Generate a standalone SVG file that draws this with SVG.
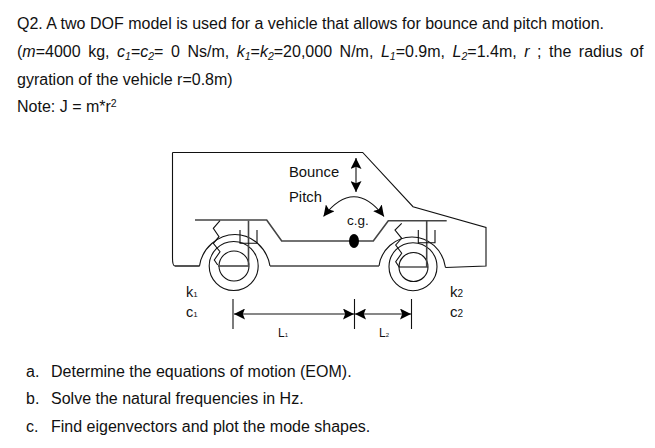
<svg xmlns="http://www.w3.org/2000/svg" width="655" height="448" viewBox="0 0 655 448">
<style>
text{font-family:"Liberation Sans",Arial,sans-serif;fill:#111}
.q{font-size:16px}
.d{font-size:14.8px}
.l{fill:none;stroke:#111;stroke-width:1.1}
.h{fill:none;stroke:#444;stroke-width:1.6}
.a{fill:none;stroke:#111;stroke-width:1.1;marker-start:url(#ah);marker-end:url(#ah)}
.i{font-style:italic}
</style>
<defs>
<marker id="ah" viewBox="0 0 10 10" refX="10" refY="5" markerWidth="11" markerHeight="11" markerUnits="userSpaceOnUse" orient="auto-start-reverse"><path d="M0 0L10 5L0 10L2 5Z" fill="#000"/></marker>
</defs>
<g id="question">
<text class="q" x="17" y="29">Q2. A two DOF model is used for a vehicle that allows for bounce and pitch motion.</text>
<text class="q" x="17" y="57" word-spacing="3.1">(<tspan class="i">m</tspan>=4000 kg, <tspan class="i">c<tspan font-size="10.5" dy="3">1</tspan></tspan><tspan dy="-3">=</tspan><tspan class="i">c<tspan font-size="10.5" dy="3">2</tspan></tspan><tspan dy="-3">= 0 Ns/m, </tspan><tspan class="i">k<tspan font-size="10.5" dy="3">1</tspan></tspan><tspan dy="-3">=</tspan><tspan class="i">k<tspan font-size="10.5" dy="3">2</tspan></tspan><tspan dy="-3">=20,000 N/m, </tspan><tspan class="i">L<tspan font-size="10.5" dy="3">1</tspan></tspan><tspan dy="-3">=0.9m, </tspan><tspan class="i">L<tspan font-size="10.5" dy="3">2</tspan></tspan><tspan dy="-3">=1.4m, </tspan><tspan class="i">r</tspan> ; the radius of</text>
<text class="q" x="17" y="85">gyration of the vehicle r=0.8m)</text>
<text class="q" x="17" y="112">Note: J = m*r<tspan font-size="10.5" dy="-5">2</tspan></text>
</g>
<g id="connectors">
<path class="a" d="M234 314H354"/>
<path class="a" d="M355 314H411"/>
<path class="a" d="M356 158V192"/>
<path class="a" d="M323.5 216.5Q354 177 384 216.5"/>
<path class="l" d="M233 299V329M354.5 299V329M411.5 299V329"/>
</g>
<g id="body">
<path class="l" d="M172.5 152.5H362.7L413 206.7L486 227.5V266L445.5 267.5"/>
<path class="l" d="M172.5 152.5V258Q172.5 266 175 266H199.5"/>
<path class="l" d="M199.5 266C202 248 218 234.5 235 234.5C252 234.5 267 248 270 266"/>
<path class="l" d="M379 266C381 250 395 237 412 237C429 237 443 250 445.5 267.5"/>
<path class="h" d="M175 266H199.5M270 266H379"/>
<path class="h" d="M195 220H266.7L281.7 241H373.3L388.3 220.7H446.7"/>
</g>
<g id="wheel-left">
<circle class="l" cx="233.7" cy="266" r="24.5"/>
<circle class="l" cx="234" cy="266" r="15"/>
<path class="h" d="M218 266H249"/>
<path class="l" d="M220 220.7L213.3 228.3L219 236.7L213.3 243.3L220 251.7L214.3 260L217.7 265"/>
<path class="h" d="M248.5 220.7V265"/>
<path class="l" d="M240 230V243.3H257V230"/>
</g>
<g id="wheel-right">
<circle class="l" cx="413" cy="266.7" r="24"/>
<circle class="l" cx="413.5" cy="267" r="14.5"/>
<path class="l" d="M399 267H428"/>
<path class="l" d="M401.7 223.3L395 230L401.7 238.3L395.7 245L401.7 253.3L395.7 261.7L399.3 267.3"/>
<path class="h" d="M426.7 220.7V267"/>
<path class="l" d="M418.3 230V242.7H435V230"/>
</g>
<g id="cg">
<ellipse cx="354" cy="241" rx="5" ry="7" fill="#000"/>
<text x="347" y="225" font-size="13.5">c.g.</text>
</g>
<g id="labels">
<text class="d" x="289" y="177">Bounce</text>
<text class="d" x="289" y="202">Pitch</text>
<text x="186" y="297" font-size="14.5">k<tspan font-size="8">1</tspan></text>
<text x="186" y="317" font-size="14.5">c<tspan font-size="8">1</tspan></text>
<text x="450" y="297" font-size="15">k<tspan font-size="10">2</tspan></text>
<text x="450" y="317" font-size="15">c<tspan font-size="10">2</tspan></text>
<text x="278" y="337" font-size="12">L<tspan font-size="6">1</tspan></text>
<text x="379" y="337" font-size="12">L<tspan font-size="6">2</tspan></text>
</g>
<g id="tasks">
<text class="q" x="26" y="377">a.</text><text class="q" x="51" y="377">Determine the equations of motion (EOM).</text>
<text class="q" x="26" y="404">b.</text><text class="q" x="51" y="404">Solve the natural frequencies in Hz.</text>
<text class="q" x="26" y="432">c.</text><text class="q" x="51" y="432">Find eigenvectors and plot the mode shapes.</text>
</g>
</svg>
